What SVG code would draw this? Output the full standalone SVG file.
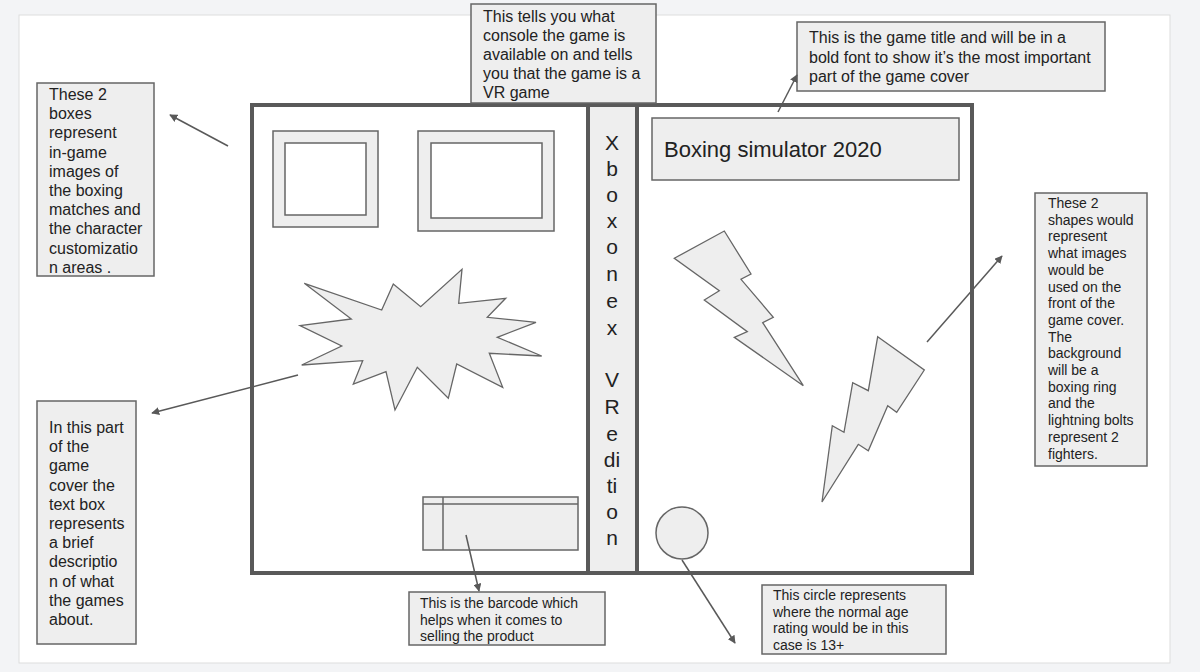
<svg xmlns="http://www.w3.org/2000/svg" width="1200" height="672" viewBox="0 0 1200 672">
<defs>
<style>
.box{fill:#eeeeee;stroke:#666666;stroke-width:1.5}
.white{fill:#ffffff;stroke:#666666;stroke-width:1.5}
.cover{fill:#ffffff;stroke:#595959;stroke-width:4}
.shape{fill:#eeeeee;stroke:#666666;stroke-width:1.3;stroke-linejoin:miter}
.t16{font-family:"Liberation Sans",Arial,sans-serif;font-size:16px;fill:#222222}
.t14{font-family:"Liberation Sans",Arial,sans-serif;font-size:14px;fill:#222222}
.t22{font-family:"Liberation Sans",Arial,sans-serif;font-size:22px;fill:#222222}
.spine{font-family:"Liberation Sans",Arial,sans-serif;font-size:21px;fill:#222222;text-anchor:middle}
.conn{stroke:#595959;stroke-width:1.5;fill:none;marker-end:url(#ah)}
</style>
<marker id="ah" viewBox="0 0 10 10" refX="9" refY="5" markerWidth="8" markerHeight="8" markerUnits="userSpaceOnUse" orient="auto">
<path d="M0,0 L10,5 L0,10 z" fill="#595959"/>
</marker>
</defs>
<rect x="0" y="0" width="1200" height="672" fill="#f3f4f6"/>
<rect x="19" y="15" width="1151" height="648" fill="#ffffff" stroke="#dddddd" stroke-width="1"/>

<g id="cover-left">
<rect class="cover" x="252" y="105" width="336" height="468"/>
</g>
<g id="spine">
<rect x="588" y="105" width="49" height="468" fill="#eeeeee" stroke="#595959" stroke-width="4"/>
<text class="spine" x="612">
<tspan x="612" y="150">X</tspan><tspan x="612" y="176">b</tspan><tspan x="612" y="202">o</tspan><tspan x="612" y="228">x</tspan><tspan x="612" y="254">o</tspan><tspan x="612" y="281">n</tspan><tspan x="612" y="308">e</tspan><tspan x="612" y="335">x</tspan><tspan x="612" y="387">V</tspan><tspan x="612" y="414">R</tspan><tspan x="612" y="441">e</tspan><tspan x="612" y="467">di</tspan><tspan x="612" y="493">ti</tspan><tspan x="612" y="519">o</tspan><tspan x="612" y="545">n</tspan>
</text>
</g>
<g id="cover-right">
<rect class="cover" x="637" y="105" width="335" height="468"/>
</g>

<g id="image-box-1">
<rect class="box" x="273" y="131" width="105" height="96"/>
<rect class="white" x="285" y="143" width="81" height="72"/>
</g>
<g id="image-box-2">
<rect class="box" x="418" y="131" width="136" height="100"/>
<rect class="white" x="431" y="143" width="111" height="75"/>
</g>
<g id="starburst">
<polygon class="shape" points="304.3,283.3 381.7,310 393.3,284 420.7,306.7 462,269.3 458.7,303.3 505.7,298.3 487.3,317.3 536,322.3 497.3,337.3 541.7,356 489.3,353.3 502.7,387.3 456.7,364 448.3,398.3 417.3,367.3 395,410 386,371.7 353.3,384 362.7,360.7 301.7,365 341.7,346 300,325.7 351.3,319"/>
</g>
<g id="barcode">
<rect class="box" x="423" y="497" width="155" height="53"/>
<line x1="443" y1="497" x2="443" y2="550" stroke="#666666" stroke-width="1.5"/>
<line x1="423" y1="504" x2="578" y2="504" stroke="#666666" stroke-width="1.5"/>
</g>
<g id="game-title">
<rect class="box" x="652" y="118" width="307" height="62"/>
<text class="t22" x="664" y="157">Boxing simulator 2020</text>
</g>
<g id="bolt-1">
<polygon class="shape" points="674.3,258.3 724.3,231 751,274 741,279.3 773.3,317.3 762.7,322.7 803.3,385.7 734.3,337.3 747.3,331.7 704.3,300 719.3,290.7"/>
</g>
<g id="bolt-2">
<polygon class="shape" points="877.7,336.7 924.3,370 896.7,412.3 887.7,405.7 868.3,450.7 858.3,444.3 822,502 832.3,425.7 844,432.3 852.7,382.7 868.3,390.7"/>
</g>
<g id="age-circle">
<circle cx="682" cy="533" r="26" fill="#eeeeee" stroke="#666666" stroke-width="1.5"/>
</g>

<g id="note-images">
<rect class="box" x="37" y="83" width="117" height="193"/>
<text class="t16"><tspan x="49" y="100">These 2</tspan><tspan x="49" y="119.2">boxes</tspan><tspan x="49" y="138.4">represent</tspan><tspan x="49" y="157.6">in-game</tspan><tspan x="49" y="176.8">images of</tspan><tspan x="49" y="196">the boxing</tspan><tspan x="49" y="215.2">matches and</tspan><tspan x="49" y="234.4">the character</tspan><tspan x="49" y="253.6">customizatio</tspan><tspan x="49" y="272.8">n areas .</tspan></text>
</g>
<g id="note-console">
<rect class="box" x="471" y="4" width="185" height="99"/>
<text class="t16"><tspan x="483" y="22">This tells you what</tspan><tspan x="483" y="41">console the game is</tspan><tspan x="483" y="60">available on and tells</tspan><tspan x="483" y="79">you that the game is a</tspan><tspan x="483" y="98">VR game</tspan></text>
</g>
<g id="note-title">
<rect class="box" x="797" y="22" width="308" height="69"/>
<text class="t16"><tspan x="809" y="43">This is the game title and will be in a</tspan><tspan x="809" y="63">bold font to show it’s the most important</tspan><tspan x="809" y="82">part of the game cover</tspan></text>
</g>
<g id="note-shapes">
<rect class="box" x="1035" y="193" width="112" height="273"/>
<text class="t14"><tspan x="1048" y="208">These 2</tspan><tspan x="1048" y="224.7">shapes would</tspan><tspan x="1048" y="241.4">represent</tspan><tspan x="1048" y="258.1">what images</tspan><tspan x="1048" y="274.8">would be</tspan><tspan x="1048" y="291.5">used on the</tspan><tspan x="1048" y="308.2">front of the</tspan><tspan x="1048" y="324.9">game cover.</tspan><tspan x="1048" y="341.6">The</tspan><tspan x="1048" y="358.3">background</tspan><tspan x="1048" y="375">will be a</tspan><tspan x="1048" y="391.7">boxing ring</tspan><tspan x="1048" y="408.4">and the</tspan><tspan x="1048" y="425.1">lightning bolts</tspan><tspan x="1048" y="441.8">represent 2</tspan><tspan x="1048" y="458.5">fighters.</tspan></text>
</g>
<g id="note-description">
<rect class="box" x="37" y="401" width="99" height="243"/>
<text class="t16"><tspan x="49" y="433">In this part</tspan><tspan x="49" y="452.2">of the</tspan><tspan x="49" y="471.4">game</tspan><tspan x="49" y="490.6">cover the</tspan><tspan x="49" y="509.8">text box</tspan><tspan x="49" y="529">represents</tspan><tspan x="49" y="548.2">a brief</tspan><tspan x="49" y="567.4">descriptio</tspan><tspan x="49" y="586.6">n of what</tspan><tspan x="49" y="605.8">the games</tspan><tspan x="49" y="625">about.</tspan></text>
</g>
<g id="note-barcode">
<rect class="box" x="409" y="592" width="196" height="53"/>
<text class="t14"><tspan x="420" y="608">This is the barcode which</tspan><tspan x="420" y="624.5">helps when it comes to</tspan><tspan x="420" y="641">selling the product</tspan></text>
</g>
<g id="note-age">
<rect class="box" x="762" y="585" width="184" height="69"/>
<text class="t14"><tspan x="773" y="600">This circle represents</tspan><tspan x="773" y="616.7">where the normal age</tspan><tspan x="773" y="633.4">rating would be in this</tspan><tspan x="773" y="650">case is 13+</tspan></text>
</g>

<g id="connectors">
<line class="conn" x1="228" y1="146" x2="170" y2="115"/>
<line class="conn" x1="298" y1="375" x2="152" y2="413"/>
<line class="conn" x1="466" y1="535" x2="479" y2="591"/>
<line class="conn" x1="682" y1="560" x2="735" y2="643"/>
<line class="conn" x1="927" y1="342" x2="1002" y2="256"/>
<line class="conn" x1="778" y1="112" x2="797" y2="75"/>
</g>
</svg>
